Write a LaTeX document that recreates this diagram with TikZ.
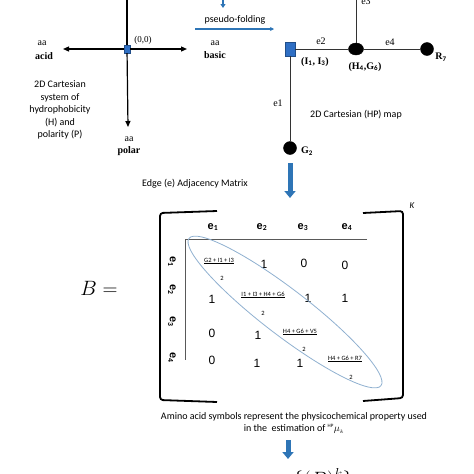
\documentclass[tikz,border=0pt]{standalone}
\usepackage{fontspec}
\setmainfont{Carlito}
\newfontfamily\tnr{Liberation Serif}
\newfontfamily\arl{Liberation Sans}
\usetikzlibrary{arrows.meta,shapes.geometric}
\definecolor{obl}{HTML}{2E75B6}
\definecolor{sqb}{HTML}{2F6FC4}
\definecolor{ellc}{HTML}{8FB0D0}
\definecolor{edgec}{HTML}{333333}
\begin{document}
\begin{tikzpicture}[x=1pt,y=-1pt,
  ser/.style={font=\tnr\fontsize{10}{12}\selectfont, inner sep=0pt},
  serb/.style={font=\tnr\bfseries\fontsize{10}{12}\selectfont, inner sep=0pt},
  txt/.style={font=\fontsize{10}{12.5}\selectfont, inner sep=0pt},
  hdr/.style={font=\arl\bfseries\fontsize{11}{13}\selectfont, inner sep=0pt},
  num/.style={font=\arl\fontsize{12}{14}\selectfont, inner sep=0pt},
  frc/.style={font=\fontsize{6.5}{8}\selectfont, inner sep=0pt},
  axis/.style={line width=1.2pt, black},
  axarrow/.style={axis, -{Triangle[width=5pt,length=6pt]}},
  edge/.style={line width=0.9pt, edgec},
  dot/.style={circle, fill=black, draw=black, minimum size=13pt, inner sep=0pt},
  bsq/.style={rectangle, fill=sqb, draw=sqb!70!black, line width=0.4pt, inner sep=0pt},
  barrow/.style={draw=obl, line width=5pt, -{Triangle[width=11pt,length=7pt]}},
  brk/.style={line width=1.8pt, black, rounded corners=3pt},
  inner/.style={line width=0.9pt, black!65},
  ellip/.style={draw=ellc, line width=0.8pt}]
\useasboundingbox (0,0) rectangle (474,474);
\clip (0,0) rectangle (474,474);

% ---------- left cross ----------
\node[bsq, minimum width=6pt, minimum height=8pt] (o) at (127,49) {};
\coordinate (vtop) at (127,-3);
\coordinate (vbot) at (128,127);
\coordinate (hl) at (63,49);
\coordinate (hr) at (187,49);
\draw[axis] (vtop) -- (o);
\draw[axarrow] (o) -- (vbot);
\draw[axarrow] (o) -- (hl);
\draw[axarrow] (o) -- (hr);
\node[ser, font=\tnr\fontsize{9}{11}\selectfont] (oo) at (143,40) {(0,0)};
\node[ser] (aa1) at (42,43) {aa};
\node[serb] (acid) at (44,56) {acid};
\node[ser] (aa2) at (215,43) {aa};
\node[serb] (basic) at (215,55) {basic};
\node[ser] (aa3) at (129,139) {aa};
\node[serb] (polar) at (129,151) {polar};
\node[txt, align=center] (cart) at (60,110) {2D Cartesian\\system of\\hydrophobicity\\(H) and\\polarity (P)};

% ---------- pseudo-folding ----------
\coordinate (pa) at (223,-1);
\coordinate (pb) at (223,8);
\draw[draw=obl, line width=2pt, -{Triangle[width=5pt,length=4pt]}] (pa) -- (pb);
\node[txt] (pf) at (235,20) {pseudo-folding};
\coordinate (pl) at (195,29);
\coordinate (pr) at (274,29);
\draw[draw=obl, line width=1.4pt, -{Stealth[width=4pt,length=4pt]}] (pl) -- (pr);

% ---------- right graph ----------
\node[bsq, minimum width=10pt, minimum height=14pt] (I) at (290,49) {};
\node[ellipse, fill=black, draw=black, minimum width=15pt, minimum height=12pt, inner sep=0pt] (H) at (356,49) {};
\node[dot] (R) at (427,49) {};
\node[dot] (G) at (290,148) {};
\coordinate (e3top) at (356,-3);
\draw[edge] (e3top) -- (H);
\draw[edge] (I) -- (H);
\draw[edge] (H) -- (R);
\draw[edge] (I) -- (G);
\node[ser] (le3) at (366,1) {e3};
\node[ser] (le2) at (321,41) {e2};
\node[ser] (le4) at (390,42) {e4};
\node[ser] (le1) at (278,103) {e1};
\node[serb] (lI) at (315,62) {(I$_\mathbf{1}$, I$_\mathbf{3}$)};
\node[serb] (lH) at (365,67) {(H$_\mathbf{4}$,G$_\mathbf{6}$)};
\node[serb] (lR) at (441,57) {R$_\mathbf{7}$};
\node[serb] (lG) at (307,151) {G$_\mathbf{2}$};
\node[txt] (hpmap) at (356,115) {2D Cartesian (HP) map};

\coordinate (a1s) at (290,163);
\coordinate (a1e) at (290,198);
\draw[barrow] (a1s) -- (a1e);
\node[txt] (eam) at (195,184) {Edge (e) Adjacency Matrix};

% ---------- matrix ----------
\node[inner sep=0pt, font=\fontsize{22}{26}\selectfont] (B) at (99,288) {$B =$};
\draw[brk] (217,211) -- (160,213) -- (160,400) -- (217,402);
\draw[brk] (363,213) -- (403,211) -- (403,398) -- (363,401);
\node[inner sep=0pt, font=\fontsize{9}{10}\selectfont] (kk) at (412,206) {\textit{K}};
\draw[inner] (367,239) -- (185,239) -- (185,360);

\node[hdr] (c1) at (213,227) {e$_\mathbf{1}$};
\node[hdr] (c2) at (262,227) {e$_\mathbf{2}$};
\node[hdr] (c3) at (303,227) {e$_\mathbf{3}$};
\node[hdr] (c4) at (347,227) {e$_\mathbf{4}$};
\node[hdr, rotate=-90] (r1) at (172,262) {e$_\mathbf{1}$};
\node[hdr, rotate=-90] (r2) at (172,290) {e$_\mathbf{2}$};
\node[hdr, rotate=-90] (r3) at (172,322) {e$_\mathbf{3}$};
\node[hdr, rotate=-90] (r4) at (172,358) {e$_\mathbf{4}$};

% row 1
\node[frc] (f1) at (219,261) {\underline{G2 + I1 + I3}};
\node[frc] (f1d) at (222,278) {2};
\node[num] (m12) at (264,264) {1};
\node[num] (m13) at (304,263) {0};
\node[num] (m14) at (345,265) {0};
% row 2
\node[num] (m21) at (212,299) {1};
\node[frc] (f2) at (263,295) {\underline{I1 + I3 + H4 + G6}};
\node[frc] (f2d) at (263,313) {2};
\node[num] (m23) at (308,298) {1};
\node[num] (m24) at (345,298) {1};
% row 3
\node[num] (m31) at (212,333) {0};
\node[num] (m32) at (258,335) {1};
\node[frc] (f3) at (300,332) {\underline{H4 + G6 + V5}};
\node[frc] (f3d) at (304,349) {2};
% row 4
\node[num] (m41) at (212,360) {0};
\node[num] (m42) at (257,363) {1};
\node[num] (m43) at (300,363) {1};
\node[frc] (f4) at (345,359) {\underline{H4 + G6 + R7}};
\node[frc] (f4d) at (351,377) {2};

\draw[ellip, rotate around={-37.5:(285,312)}] (285,312) ellipse [x radius=121, y radius=23];

% ---------- bottom ----------
\node[txt, align=center, font=\fontsize{10}{12}\selectfont] (amino) at (294,423)
  {Amino acid symbols represent the physicochemical property used\\in the\ \ estimation of \textsuperscript{\tiny HP}$\mu_{\scriptscriptstyle k}$};
\coordinate (a2s) at (288,440);
\coordinate (a2e) at (288,459);
\draw[barrow] (a2s) -- (a2e);
\node[inner sep=0pt, font=\fontsize{20}{24}\selectfont] (Bk) at (323,480) {$\bigl\{(B)^{k}\bigr\}$};
\end{tikzpicture}
\end{document}
